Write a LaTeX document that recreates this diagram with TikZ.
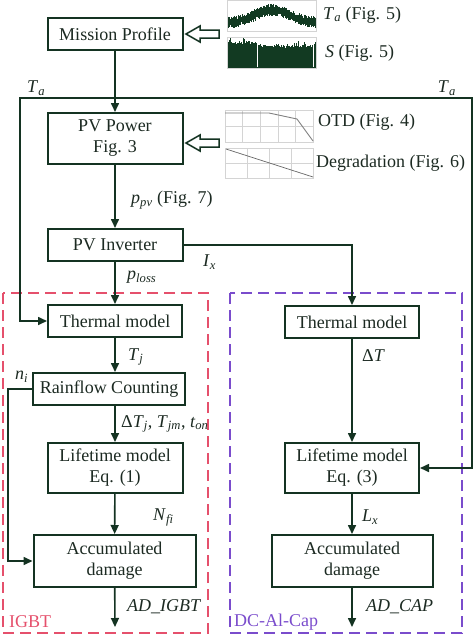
\documentclass[tikz,border=0pt]{standalone}
\usepackage{fontspec}
\setmainfont{Liberation Serif}
\usetikzlibrary{arrows.meta}
\definecolor{linec}{HTML}{143322}
\definecolor{textc}{HTML}{1C2A22}
\definecolor{igbtc}{HTML}{E5506C}
\definecolor{capc}{HTML}{7A4CCC}
\definecolor{chartc}{HTML}{123A22}
\definecolor{gridc}{HTML}{D4D4D4}
\tikzset{every node/.style={font=\fontsize{18}{21}\selectfont, text=textc},
  >={Triangle[length=9pt,width=8pt]},
  box/.style={draw=linec, line width=2pt, fill=white, align=center, inner sep=2pt},
  flow/.style={draw=linec, line width=1.6pt, ->},
  lbl/.style={anchor=west, inner sep=0pt},
  groupbox/.style={line width=2.5pt, dash pattern=on 11pt off 6pt},
  chartbox/.style={draw=gridc, line width=0.8pt},
  hollowtip/.style={draw=linec, line width=1.5pt, fill=white}}
\newcommand{\vsub}[2]{\textit{#1}\textsubscript{\textit{#2}}}
\newcommand{\hollowarrow}[1]{%
  \draw[hollowtip, shift={(#1)}] (0,0) -- (14,-8) -- (14,-4) -- (33,-4)
    -- (33,4) -- (14,4) -- (14,8) -- cycle;}

\begin{document}
\begin{tikzpicture}[x=1pt,y=-1pt,
  declare function={tam(\t)=23-13*exp(-((\t-0.5)/0.28)^2);}]
  \useasboundingbox (0,0) rectangle (474,637);
  \pgfmathsetseed{7}
  % groups
  \draw[groupbox, igbtc] (3,293) rectangle (208,633);
  \draw[groupbox, capc] (230,293) rectangle (462,633);
  \node[lbl, text=igbtc] (igbt) at (9,622) {IGBT};
  \node[lbl, text=capc] (cap) at (234,622) {DC-Al-Cap};

  % blocks
  \node[box, minimum width=135pt, minimum height=32pt] (mission) at (115,34) {Mission Profile};
  \node[box, minimum width=135pt, minimum height=51pt] (pvpower) at (115,138.5) {PV Power\\Fig. 3};
  \node[box, minimum width=135pt, minimum height=32pt] (inverter) at (115,245) {PV Inverter};
  \node[box, minimum width=134pt, minimum height=32pt] (thermA) at (115,321) {Thermal model};
  \node[box, minimum width=152pt, minimum height=32pt] (rain) at (109,389) {Rainflow Counting};
  \node[box, minimum width=135pt, minimum height=50pt] (lifeA) at (115,468) {Lifetime model\\Eq. (1)};
  \node[box, minimum width=162pt, minimum height=52pt] (accA) at (114.5,561) {Accumulated\\damage};
  \node[box, minimum width=134pt, minimum height=32pt] (thermB) at (352,322) {Thermal model};
  \node[box, minimum width=134pt, minimum height=50pt] (lifeB) at (352,468) {Lifetime model\\Eq. (3)};
  \node[box, minimum width=161pt, minimum height=52pt] (accB) at (352,561) {Accumulated\\damage};

  % input charts
  \draw[chartc, line width=0.6pt] \foreach \i in {0,...,176}
    {({228+\i*0.5},{max(1,tam(\i/176)-2-4*rnd)}) -- ({228+\i*0.5},{min(30,tam(\i/176)+2+4*rnd)})};
  \draw[chartbox] (227,0) rectangle (316,31);
  \draw[chartc, line width=0.6pt] \foreach \i in {0,...,176}
    {({228+\i*0.5},67.5) -- ({228+\i*0.5},{(\i<58 ? 42 : 45)+3*rnd-5*rnd^8})};
  \draw[white, line width=0.8pt] (257,40) -- (257,67) (313,44) -- (313,67);
  \draw[chartbox] (227,37) rectangle (316,68);
  \draw[gridc, line width=0.4pt] \foreach \k in {1,...,4} {({225+\k*17.6},110) -- ({225+\k*17.6},142)}
    (225,126) -- (313,126);
  \draw[chartbox] (225,110) rectangle (313,142);
  \draw[gray, line width=0.9pt] (225,113) -- (269,113) -- (297,119) -- (313,141);
  \draw[gridc, line width=0.4pt] \foreach \k in {1,...,3} {({225+\k*22},148) -- ({225+\k*22},178)}
    (225,163) -- (313,163);
  \draw[chartbox] (225,148) rectangle (313,178);
  \draw[gray!80!black, line width=0.7pt] (226,149) -- (313,177);
  \hollowarrow{186,34}
  \hollowarrow{186,143}
  \node[lbl] (taname) at (323,15) {\vsub{T}{a} (Fig. 5)};
  \node[lbl] (sname) at (325,53) {\textit{S} (Fig. 5)};
  \node[lbl] (otdname) at (318,122) {OTD (Fig. 4)};
  \node[lbl] (degname) at (316,163) {Degradation (Fig. 6)};

  % connectors
  \coordinate (taL) at (20,98);
  \coordinate (taR) at (472,98);
  \coordinate (nL) at (8,389);
  \coordinate (outA) at (115,627);
  \coordinate (outB) at (352,627);
  \draw[flow] (mission) -- (pvpower);
  \draw[flow] (pvpower) -- (inverter);
  \draw[flow] (inverter) -- (thermA);
  \draw[flow] (inverter.east) -| (thermB.north);
  \draw[flow, <->] (thermA.west) -| (taL) -- (taR) |- (lifeB.east);
  \draw[flow] (thermA.south) -- (thermA.south |- rain.north);
  \draw[flow] (thermA.south |- rain.south) -- (lifeA.north);
  \draw[flow] (lifeA) -- (accA);
  \draw[flow] (rain.west) -- (nL) |- (accA.west);
  \draw[flow] (accA) -- (outA);
  \draw[flow] (thermB) -- (lifeB);
  \draw[flow] (lifeB) -- (accB);
  \draw[flow] (accB) -- (outB);

  % signal labels
  \node[lbl] (taleft) at (27,88) {\vsub{T}{a}};
  \node[lbl, anchor=east] (taright) at (456,88) {\vsub{T}{a}};
  \node[lbl] (ppv) at (131,200) {\vsub{p}{pv} (Fig. 7)};
  \node[lbl] (ploss) at (127,277) {\vsub{p}{loss}};
  \node[lbl] (ix) at (203,262) {\vsub{I}{x}};
  \node[lbl] (tj) at (128,357) {\vsub{T}{j}};
  \node[lbl] (ni) at (15,377) {\vsub{n}{i}};
  \node[lbl] (cyc) at (121,424) {Δ\vsub{T}{j}, \vsub{T}{jm}, \vsub{t}{on}};
  \node[lbl] (nfi) at (153,517) {\vsub{N}{fi}};
  \node[lbl] (adigbt) at (127,607) {\textit{AD\_IGBT}};
  \node[lbl] (dt) at (362,356) {Δ\textit{T}};
  \node[lbl] (lx) at (362,517) {\vsub{L}{x}};
  \node[lbl] (adcap) at (366,607) {\textit{AD\_CAP}};
\end{tikzpicture}
\end{document}
